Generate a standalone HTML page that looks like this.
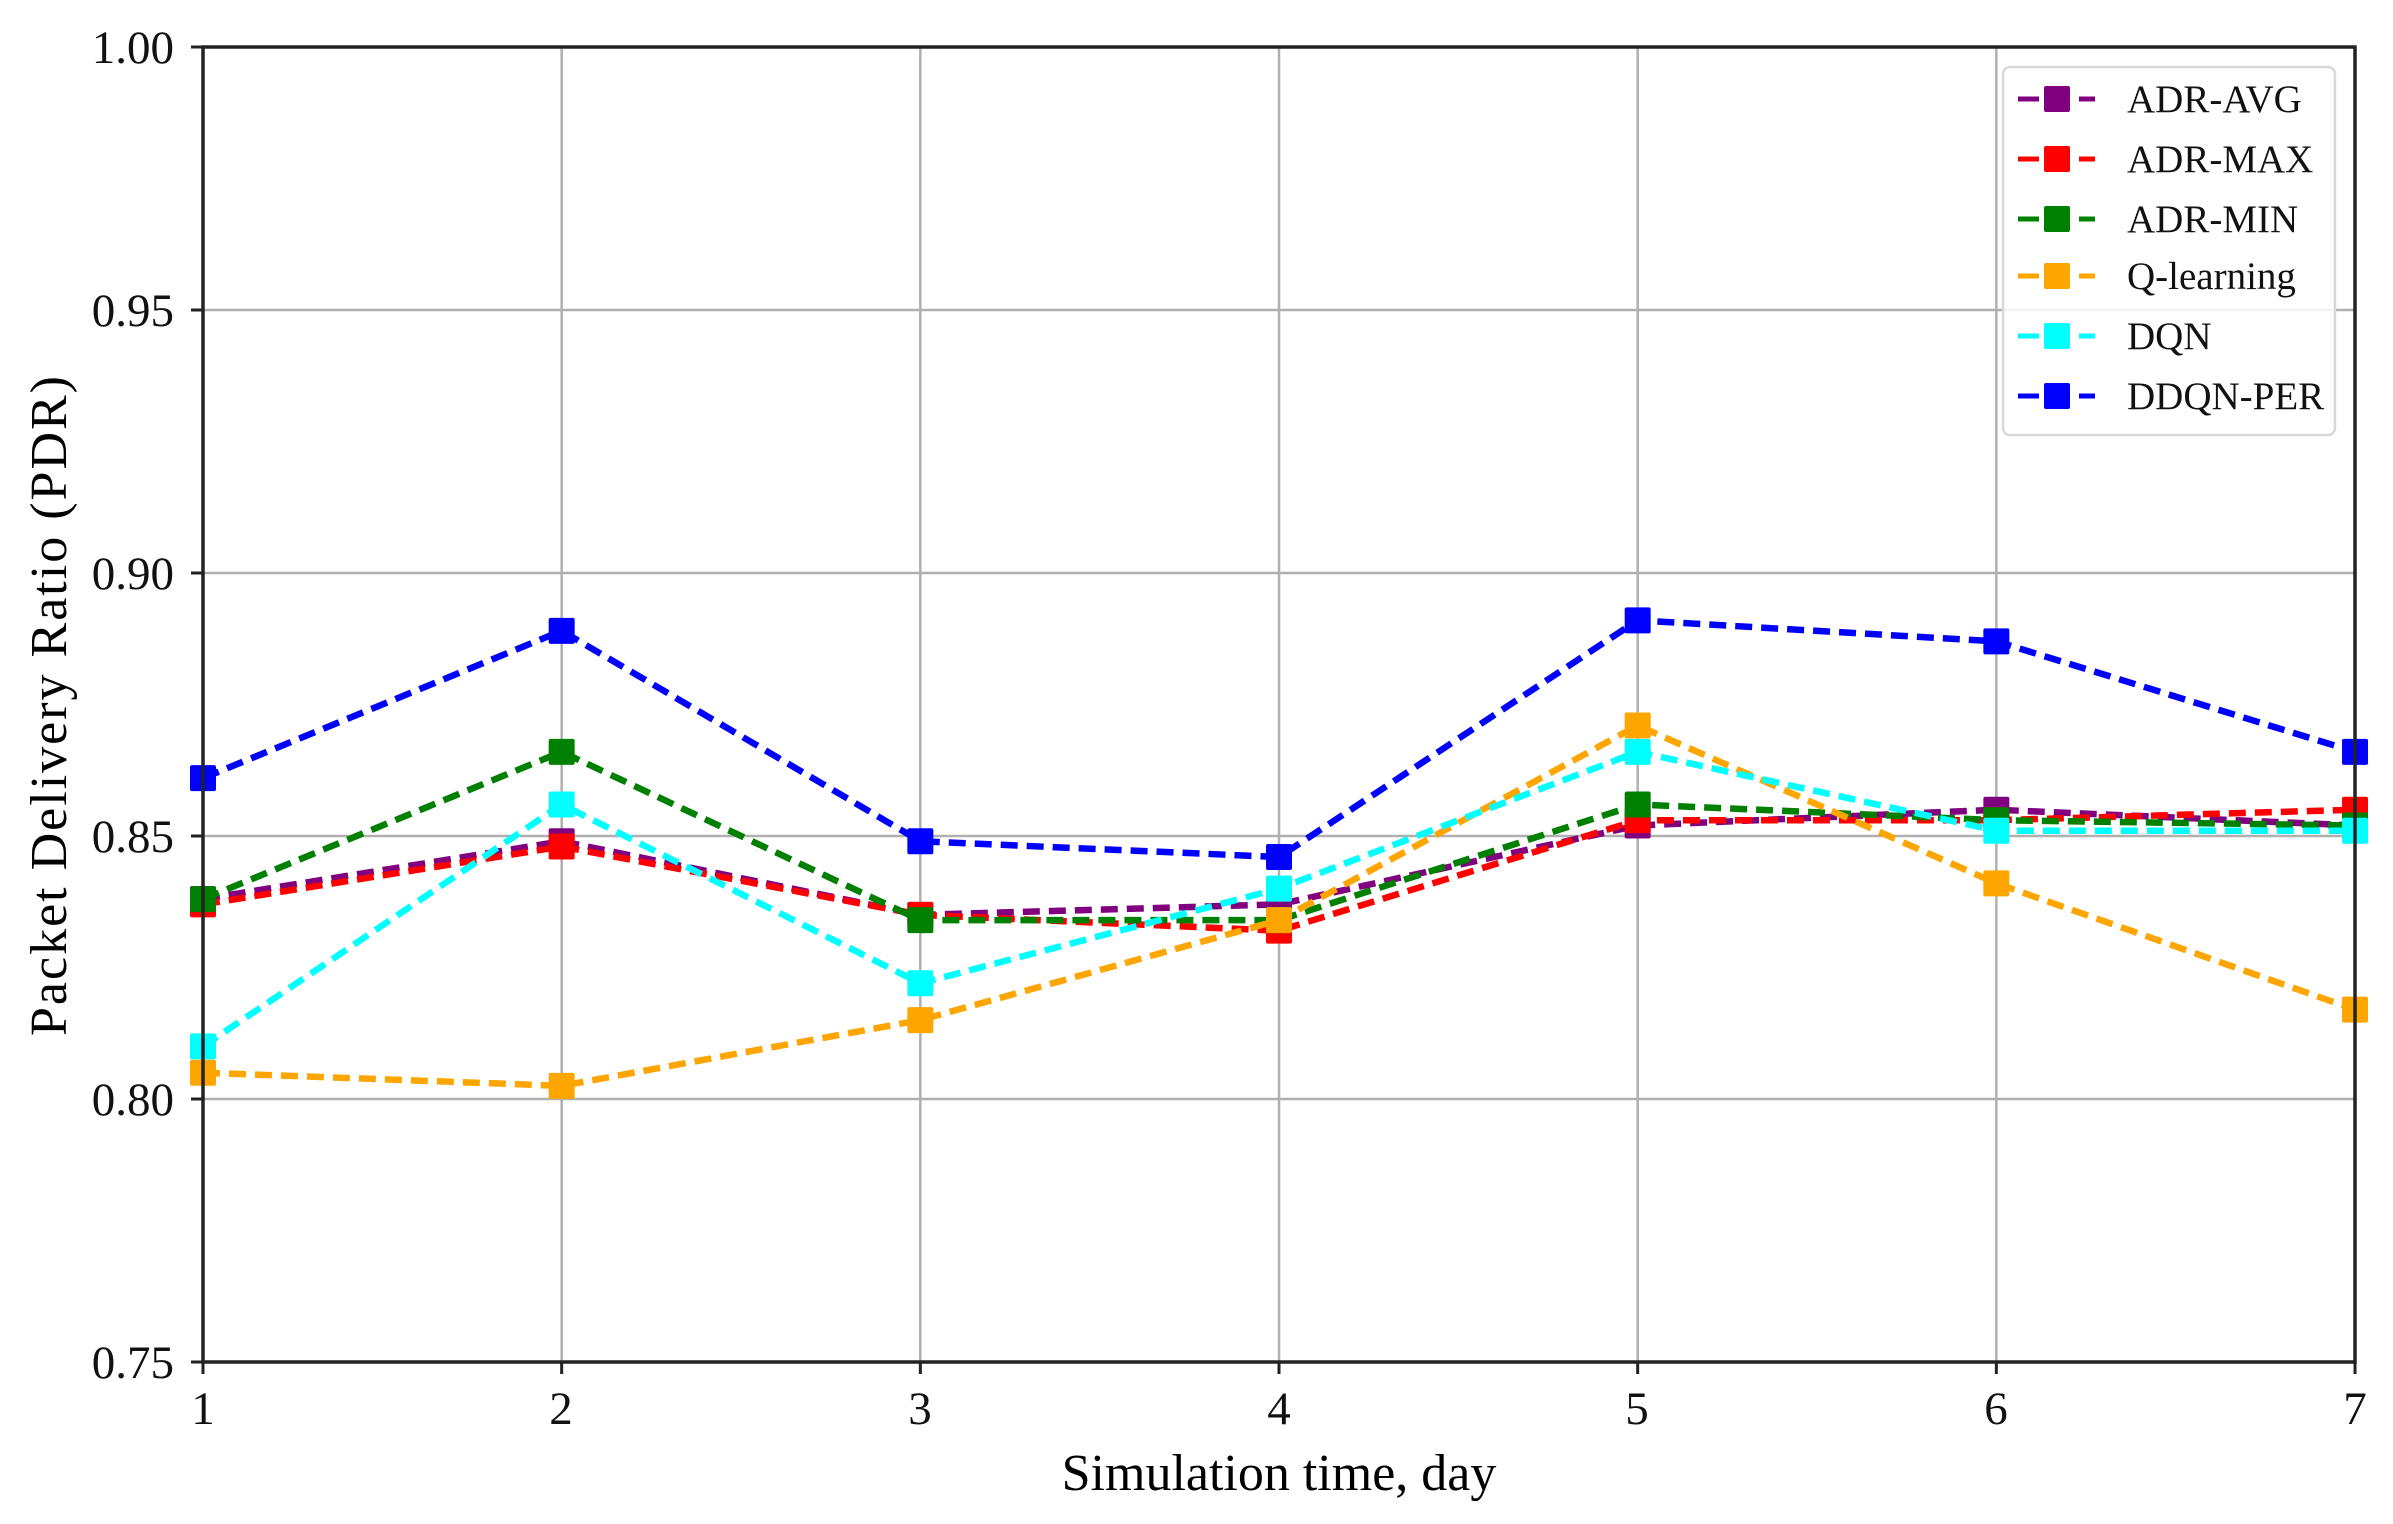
<!DOCTYPE html>
<html><head><meta charset="utf-8"><style>
html,body{margin:0;padding:0;background:#fff}
svg{display:block;font-family:"Liberation Serif",serif}
</style></head><body>
<svg id="s" width="2393" height="1524" viewBox="0 0 2393 1524" xmlns="http://www.w3.org/2000/svg">
<rect width="2393" height="1524" fill="#fff"/>
<g id="grid" stroke="#b0b0b0" stroke-width="2.5"></g>
<g id="series"></g>
<rect x="203" y="47" width="2152" height="1315" fill="none" stroke="#222" stroke-width="3.5"/>
<g id="ticks" stroke="#222" stroke-width="3"></g>
<g font-size="47" fill="#111" text-anchor="end">
<text x="174" y="63">1.00</text>
<text x="174" y="326">0.95</text>
<text x="174" y="589">0.90</text>
<text x="174" y="852">0.85</text>
<text x="174" y="1115">0.80</text>
<text x="174" y="1378">0.75</text>
</g>
<g font-size="47" fill="#111" text-anchor="middle">
<text x="203" y="1424">1</text>
<text x="561" y="1424">2</text>
<text x="920" y="1424">3</text>
<text x="1279" y="1424">4</text>
<text x="1637" y="1424">5</text>
<text x="1996" y="1424">6</text>
<text x="2355" y="1424">7</text>
</g>
<text x="1279" y="1490" font-size="52" fill="#000" text-anchor="middle">Simulation time, day</text>
<text transform="translate(66,705) rotate(-90)" font-size="52" fill="#000" text-anchor="middle" letter-spacing="2">Packet Delivery Ratio (PDR)</text>
<rect x="2003" y="67" width="332" height="368" rx="7" fill="#fff" fill-opacity="0.85" stroke="#d8d8d8" stroke-width="2.5"/>
<g id="leg"></g>
<g font-size="39" fill="#111">
<text x="2127" y="112">ADR-AVG</text>
<text x="2127" y="172">ADR-MAX</text>
<text x="2127" y="232">ADR-MIN</text>
<text x="2127" y="289">Q-learning</text>
<text x="2127" y="349">DQN</text>
<text x="2127" y="409">DDQN-PER</text>
</g>
</svg>
<script>
const NS="http://www.w3.org/2000/svg";
const X=i=>203+i*358.67, Y=v=>1362-(v-0.75)*5260;
function el(p,t,a){const e=document.createElementNS(NS,t);for(const k in a)e.setAttribute(k,a[k]);document.getElementById(p).appendChild(e);return e;}
for(let i=1;i<6;i++)el("grid","line",{x1:X(i),x2:X(i),y1:47,y2:1362});
for(let j=1;j<5;j++)el("grid","line",{x1:203,x2:2355,y1:Y(0.75+j*0.05),y2:Y(0.75+j*0.05)});
for(let i=0;i<7;i++)el("ticks","line",{x1:X(i),x2:X(i),y1:1362,y2:1374});
for(let j=0;j<6;j++)el("ticks","line",{x1:191,x2:203,y1:Y(0.75+j*0.05),y2:Y(0.75+j*0.05)});
const S=[
["purple",[0.838,0.849,0.835,0.837,0.852,0.855,0.852]],
["red",[0.837,0.848,0.835,0.832,0.853,0.853,0.855]],
["green",[0.838,0.866,0.834,0.834,0.856,0.853,0.852]],
["orange",[0.805,0.8025,0.815,0.834,0.871,0.841,0.817]],
["cyan",[0.810,0.856,0.822,0.840,0.866,0.851,0.851]],
["blue",[0.861,0.889,0.849,0.846,0.891,0.887,0.866]]];
const ly=[99,159,219,276,336,396];
S.forEach((s,k)=>{
 const pts=s[1].map((v,i)=>X(i)+","+Y(v)).join(" ");
 el("series","polyline",{points:pts,fill:"none",stroke:s[0],"stroke-width":6.5,"stroke-dasharray":"17,9"});
 s[1].forEach((v,i)=>el("series","rect",{x:X(i)-13,y:Y(v)-13,width:26,height:26,fill:s[0],rx:2}));
 el("leg","line",{x1:2018,x2:2039,y1:ly[k],y2:ly[k],stroke:s[0],"stroke-width":5});
 el("leg","line",{x1:2079,x2:2095,y1:ly[k],y2:ly[k],stroke:s[0],"stroke-width":5});
 el("leg","rect",{x:2044,y:ly[k]-13,width:26,height:26,fill:s[0],rx:2});
});
</script>
</body></html>
